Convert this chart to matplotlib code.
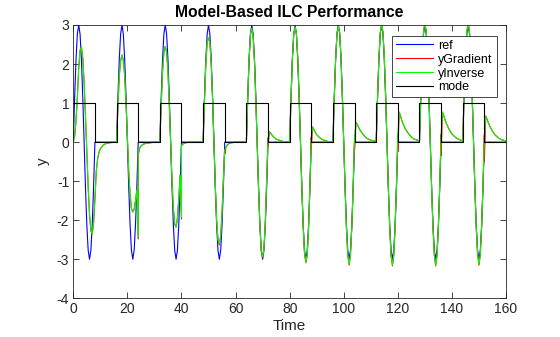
import numpy as np
import matplotlib
matplotlib.use("Agg")
import matplotlib.pyplot as plt

plt.rcParams['font.family'] = ['Liberation Sans', 'DejaVu Sans']
plt.rcParams['axes.unicode_minus'] = False

# ---------------- data ----------------
# time offsets inside one 16 s cycle (8 s run, 8 s reset); 8 appears twice (end of run / start of reset)
TAU = [0, 0.5, 1, 1.5, 2, 2.5, 3, 3.5, 4, 4.5, 5, 5.5, 6, 6.5, 7, 7.5, 8, 8,
       8.5, 9, 9.5, 10, 11, 12, 13, 14, 16]
trial_start = [0, 16, 32, 48, 64, 80, 96, 112, 128, 144]

ref_trial = [0, 1.15, 2.12, 2.77, 3.0, 2.77, 2.12, 1.15, 0, -1.15, -2.12, -2.77, -3.0, -2.77,
             -2.12, -1.15, 0, 0, 0, 0, 0, 0, 0, 0, 0, 0, 0]

y_inverse = [
    [0, 0.15, 0.55, 1.15, 1.90, 2.35, 2.44, 2.15, 1.52, 0.67, -0.27, -1.15, -1.85, -2.27, -2.35, -2.07, -1.45, -1.45, -0.75, -0.42, -0.26, -0.17, -0.08, -0.04, -0.02, -0.01, 0],
    [0, 0.9, 1.7, 2.08, 2.23, 2.1, 1.7, 1.0, 0.1, -0.75, -1.35, -1.7, -1.79, -1.72, -1.5, -1.22, -2.43, -0.3, -0.16, -0.1, -0.07, -0.05, -0.03, -0.02, -0.01, 0, 0],
    [0, 0.95, 1.8, 2.3, 2.45, 2.3, 1.8, 0.95, -0.05, -1.0, -1.7, -2.1, -2.17, -1.95, -1.45, -0.85, -1.92, -0.08, -0.05, -0.03, -0.02, -0.01, 0, 0, 0, 0, 0],
    [0, 1.05, 2.0, 2.55, 2.68, 2.55, 2.0, 1.1, 0.0, -1.1, -2.0, -2.5, -2.6, -2.4, -1.8, -0.95, -0.2, -0.2, -0.12, -0.07, -0.04, -0.02, -0.01, 0, 0, 0, 0],
    [0, 1.15, 2.12, 2.75, 2.92, 2.7, 2.05, 1.05, -0.05, -1.2, -2.15, -2.78, -2.94, -2.72, -2.05, -1.0, 0.1, 0.1, 0.26, 0.22, 0.18, 0.14, 0.08, 0.05, 0.03, 0.01, 0],
    [0, 1.12, 2.1, 2.75, 2.95, 2.78, 2.15, 1.18, 0.02, -1.15, -2.15, -2.85, -3.07, -2.88, -2.2, -1.12, 0.12, 0.12, 0.38, 0.31, 0.25, 0.19, 0.12, 0.07, 0.04, 0.02, 0],
    [0, 1.15, 2.12, 2.78, 2.97, 2.8, 2.15, 1.15, -0.02, -1.2, -2.2, -2.9, -3.13, -2.88, -2.15, -1.1, 0.15, 0.15, 0.5, 0.45, 0.38, 0.31, 0.21, 0.13, 0.08, 0.05, 0.02],
    [0.02, 1.15, 2.14, 2.8, 3.02, 2.82, 2.16, 1.16, -0.02, -1.2, -2.2, -2.9, -3.15, -2.9, -2.17, -1.1, 0.2, 0.2, 0.76, 0.66, 0.55, 0.46, 0.31, 0.21, 0.13, 0.08, 0.03],
    [0.03, 1.16, 2.15, 2.82, 3.05, 2.84, 2.17, 1.17, -0.02, -1.2, -2.2, -2.9, -3.15, -2.9, -2.17, -1.1, 0.2, 0.2, 0.76, 0.67, 0.56, 0.47, 0.32, 0.21, 0.14, 0.09, 0.03],
    [0.03, 1.16, 2.15, 2.82, 3.05, 2.84, 2.17, 1.17, -0.02, -1.2, -2.2, -2.88, -3.13, -2.88, -2.15, -1.1, 0.18, 0.18, 0.66, 0.58, 0.49, 0.41, 0.28, 0.18, 0.12, 0.07, 0.03],
]

y_gradient = [
    [0, 0.15, 0.55, 1.15, 1.90, 2.35, 2.44, 2.15, 1.52, 0.67, -0.27, -1.15, -1.85, -2.27, -2.35, -2.07, -1.45, -1.45, -0.75, -0.42, -0.26, -0.17, -0.08, -0.04, -0.02, -0.01, 0],
    [0, 0.9, 1.7, 2.08, 2.23, 2.1, 1.7, 1.0, 0.1, -0.75, -1.35, -1.7, -1.79, -1.72, -1.5, -1.22, -2.48, -0.35, -0.16, -0.1, -0.07, -0.05, -0.03, -0.02, -0.01, 0, 0],
    [0, 0.95, 1.8, 2.3, 2.45, 2.3, 1.8, 0.95, -0.05, -1.0, -1.7, -2.1, -2.18, -1.95, -1.45, -0.85, -1.97, -0.1, -0.05, -0.03, -0.02, -0.01, 0, 0, 0, 0, 0],
    [0, 1.05, 2.0, 2.55, 2.68, 2.55, 2.0, 1.1, 0.0, -1.1, -2.0, -2.5, -2.63, -2.4, -1.8, -0.95, -0.2, -0.3, -0.12, -0.07, -0.04, -0.02, -0.01, 0, 0, 0, 0],
    [0, 1.15, 2.12, 2.75, 2.92, 2.7, 2.05, 1.05, -0.05, -1.2, -2.15, -2.78, -2.95, -2.72, -2.05, -1.0, 0.1, -0.1, 0.27, 0.23, 0.18, 0.14, 0.08, 0.05, 0.03, 0.01, 0],
    [0, 1.12, 2.1, 2.75, 2.95, 2.78, 2.15, 1.18, 0.02, -1.15, -2.15, -2.85, -3.09, -2.88, -2.2, -1.12, 0.12, -0.15, 0.39, 0.32, 0.25, 0.19, 0.12, 0.07, 0.04, 0.02, 0],
    [0, 1.15, 2.12, 2.78, 2.97, 2.8, 2.15, 1.15, -0.02, -1.2, -2.2, -2.9, -3.15, -2.88, -2.15, -1.1, 0.15, -0.2, 0.51, 0.46, 0.38, 0.31, 0.21, 0.13, 0.08, 0.05, 0.02],
    [0.02, 1.15, 2.14, 2.8, 3.02, 2.82, 2.16, 1.16, -0.02, -1.2, -2.2, -2.9, -3.17, -2.9, -2.17, -1.1, 0.2, -0.25, 0.77, 0.67, 0.55, 0.46, 0.31, 0.21, 0.13, 0.08, 0.03],
    [0.03, 1.16, 2.15, 2.82, 3.05, 2.84, 2.17, 1.17, -0.02, -1.2, -2.2, -2.9, -3.17, -2.9, -2.17, -1.1, 0.2, -0.35, 0.77, 0.68, 0.56, 0.47, 0.32, 0.21, 0.14, 0.09, 0.03],
    [0.03, 1.16, 2.15, 2.82, 3.05, 2.84, 2.17, 1.17, -0.02, -1.2, -2.2, -2.88, -3.15, -2.88, -2.15, -1.1, 0.18, -0.5, 0.67, 0.59, 0.49, 0.41, 0.28, 0.18, 0.12, 0.07, 0.03],
]

mode_times = [0, 8, 16, 24, 32, 40, 48, 56, 64, 72, 80, 88, 96, 104, 112, 120, 128, 136, 144, 152, 160]
mode_levels = [1, 0, 1, 0, 1, 0, 1, 0, 1, 0, 1, 0, 1, 0, 1, 0, 1, 0, 1, 0, 0]

x_ticks = [0, 20, 40, 60, 80, 100, 120, 140, 160]
y_ticks = [-4, -3, -2, -1, 0, 1, 2, 3]

# ---------------- assemble series ----------------
tau = np.array(TAU)
t = np.concatenate([s + tau for s in trial_start])
ref = np.concatenate([ref_trial for _ in trial_start])
yinv = np.concatenate(y_inverse)
ygrad = np.concatenate(y_gradient)

# ---------------- plot ----------------
fig = plt.figure(figsize=(5.6, 3.37), dpi=100)
ax = fig.add_axes([73.3 / 560, 1 - 298.3 / 337, (506 - 73.3) / 560, (298.3 - 25) / 337])

lw = 0.8
ax.plot(t, ref, color=(0, 0, 1), lw=lw, label='ref')
ax.plot(t, ygrad, color=(1, 0, 0), lw=lw, label='yGradient')
ax.plot(t, yinv, color=(0, 1, 0), lw=lw, label='yInverse')
ax.step(mode_times, mode_levels, where='post', color='k', lw=lw, label='mode')

ax.set_xlim(0, 160)
ax.set_ylim(-4, 3)
ax.set_xticks(x_ticks)
ax.set_yticks(y_ticks)

c = '0.15'
for sp in ax.spines.values():
    sp.set_linewidth(0.6)
    sp.set_color(c)
ax.tick_params(direction='in', top=True, right=True, length=4, width=0.6,
               colors=c, labelsize=10, pad=3)

ax.set_title('Model-Based ILC Performance', fontsize=11.3, fontweight='bold', pad=6)
ax.set_xlabel('Time', fontsize=11, color=c, labelpad=2)
ax.set_ylabel('y', fontsize=11, color=c, labelpad=5)

leg = ax.legend(loc='upper left', bbox_to_anchor=((392 - 73.3) / 432.7, (298.3 - 36) / 273.3),
                fontsize=9, frameon=True, fancybox=False, framealpha=1, edgecolor=c,
                borderaxespad=0, borderpad=0.3, handlelength=3.0, handletextpad=0.4,
                labelspacing=0.15)
leg.get_frame().set_linewidth(0.6)

fig.savefig('out.png', dpi=100)
